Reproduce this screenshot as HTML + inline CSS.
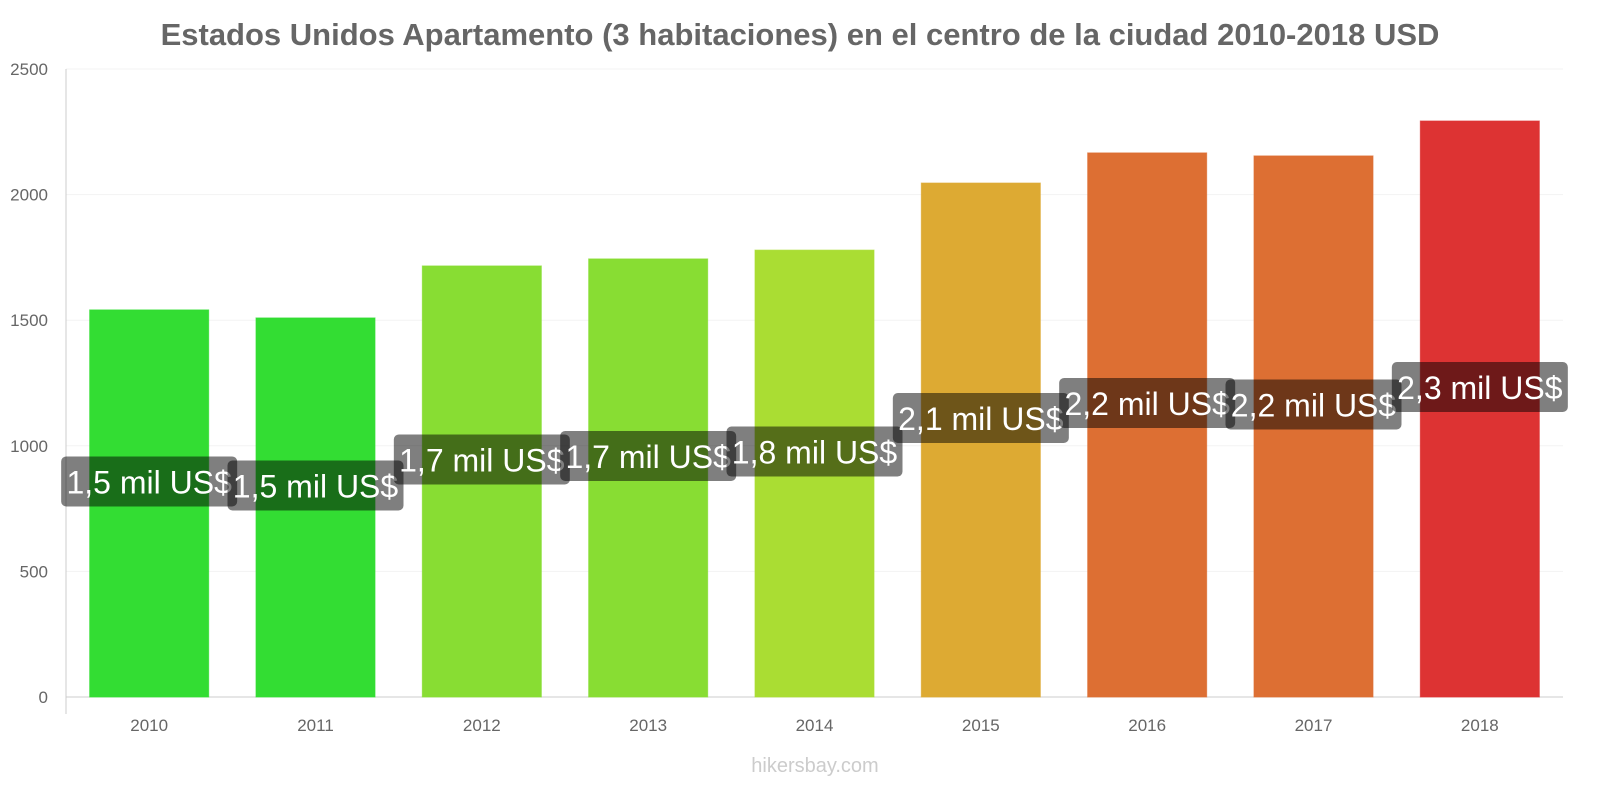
<!DOCTYPE html>
<html><head><meta charset="utf-8"><style>
body{margin:0;background:#fff;font-family:"Liberation Sans",sans-serif;}
</style></head><body>
<svg id="chart" width="1600" height="800" xmlns="http://www.w3.org/2000/svg">
<text x="800" y="45" text-anchor="middle" font-size="31" font-weight="bold" fill="#666">Estados Unidos Apartamento (3 habitaciones) en el centro de la ciudad 2010-2018 USD</text>
<g id="grid"></g><g id="bars"></g><g id="labels"></g>
<text x="815" y="772" text-anchor="middle" font-size="20" fill="#ccc">hikersbay.com</text>
</svg>
<script>
const categories=["2010","2011","2012","2013","2014","2015","2016","2017","2018"];
const values=[1541,1509,1716,1744,1779,2046,2166,2154,2293];
const valueLabels=["1,5 mil US$","1,5 mil US$","1,7 mil US$","1,7 mil US$","1,8 mil US$","2,1 mil US$","2,2 mil US$","2,2 mil US$","2,3 mil US$"];
const colors=["#33dd33","#33dd33","#88dd33","#88dd33","#aadd33","#ddaa33","#dd6f33","#dd6f33","#dd3333"];
const yTicks=[0,500,1000,1500,2000,2500];
const NS="http://www.w3.org/2000/svg";
const x0=66,x1=1563,y0=697,yTop=69,yMax=2500;
const bw=(x1-x0)/categories.length;
const y=v=>y0-(v/yMax)*(y0-yTop);
const cx=i=>x0+bw*(i+0.5);
function mk(t,a,p){const e=document.createElementNS(NS,t);for(const k in a)e.setAttribute(k,a[k]);p.appendChild(e);return e;}
const g=document.getElementById('grid'),b=document.getElementById('bars'),l=document.getElementById('labels');
yTicks.forEach(t=>{
 const ln=mk('line',{x1:x0,x2:x1,y1:y(t),y2:y(t),stroke:t?'#f3f3f3':'#ccc','stroke-width':1},g);
 
 
 const tx=mk('text',{x:48,y:y(t)+6,'text-anchor':'end','font-size':17,fill:'#666'},g);
 tx.textContent=t;
 
 
});
const ax=mk('line',{x1:x0,x2:x0,y1:yTop,y2:714,stroke:'#ccc'},g);


categories.forEach((c,i)=>{
 const r=mk('rect',{x:cx(i)-59.5,y:y(values[i]),width:119,height:y0-y(values[i]),fill:colors[i],stroke:colors[i],'stroke-opacity':0.7},b);
 
 
 const t=mk('text',{x:cx(i),y:731,'text-anchor':'middle','font-size':17,fill:'#666'},g);
 t.textContent=c;
 
 
 const my=(y(values[i])+y0)/2-22;
 const bx=mk('rect',{x:cx(i)-88,y:my-25,width:176,height:50,rx:5,fill:'rgba(0,0,0,0.5)'},l);
 
 
 const lt=mk('text',{x:cx(i),y:my+12,'text-anchor':'middle','font-size':32,fill:'#fff'},l);
 lt.textContent=valueLabels[i];
 
 
});
</script>
</body></html>
